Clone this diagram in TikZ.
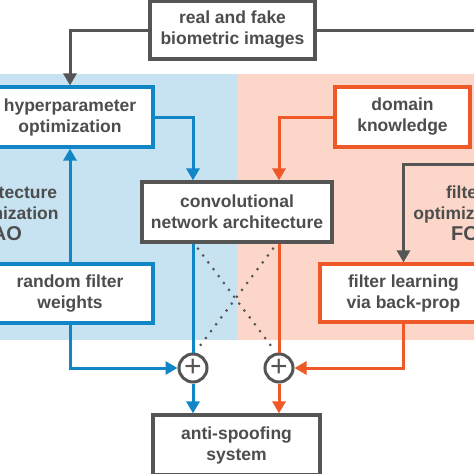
\documentclass[tikz,border=0pt]{standalone}
\usepackage{fontspec}
\setmainfont{Liberation Sans}
\usetikzlibrary{arrows.meta,calc}
\definecolor{cblue}{RGB}{16,134,199}
\definecolor{bgblue}{RGB}{199,226,241}
\definecolor{corange}{RGB}{239,88,39}
\definecolor{bgpink}{RGB}{252,215,201}
\definecolor{cgray}{RGB}{85,85,85}
\definecolor{ctext}{RGB}{77,77,77}
\tikzset{
  box/.style={draw=#1, line width=3.2pt, fill=white, text=ctext, align=center,
    font=\fontsize{17.5}{21}\selectfont\bfseries, inner sep=0pt},
  conn/.style={draw=#1, line width=3pt},
  arr/.style={conn=#1, -{Triangle[length=12pt,width=13pt]}},
  plus/.style={circle, draw=cgray, line width=3pt, fill=white, minimum size=28pt,
    inner sep=0pt, text=cgray, font=\fontsize{30}{30}\selectfont},
  dots/.style={draw=cgray, line width=3pt, line cap=round, dash pattern=on 0pt off 8.6pt},
  side/.style={text=ctext, align=center, font=\fontsize{17.5}{21}\selectfont\bfseries}
}
\begin{document}
\begin{tikzpicture}[x=1pt,y=-1pt]
\useasboundingbox (0,0) rectangle (474,474);
\clip (0,0) rectangle (474,474);
\fill[bgblue] (-10,74) rectangle (237,340);
\fill[bgpink] (237,74) rectangle (490,340);

\node[box=cgray, minimum width=165pt, minimum height=58pt] (top) at (232.5,30) {real and fake\\biometric images};
\node[box=cblue, minimum width=166pt, minimum height=60pt] (hyper) at (70,117) {hyperparameter\\optimization};
\node[box=corange, minimum width=135pt, minimum height=60pt] (dom) at (402.5,117) {domain\\knowledge};
\node[box=cgray, minimum width=190pt, minimum height=60pt] (conv) at (237,212) {convolutional\\network architecture};
\node[box=cblue, minimum width=166pt, minimum height=59pt] (rand) at (70,293.5) {random filter\\weights};
\node[box=corange, minimum width=167pt, minimum height=58pt] (filt) at (403.5,293) {filter learning\\via back-prop};
\node[plus] (pl) at (193,368) {+};
\node[plus] (pr) at (279,368) {+};
\node[box=cgray, minimum width=167pt, minimum height=60pt] (anti) at (236.5,445) {anti-spoofing\\system};

\node[side] (ao) at (7,213) {architecture\\optimization\\{\fontsize{20}{23}\selectfont AO}};
\node[side] (fo) at (465,213) {filter\\optimization\\{\fontsize{20}{23}\selectfont FO}};

\coordinate (rc) at (495,164);
\draw[arr=cgray] (top.west) -| (hyper.north);
\draw[arr=cgray] (top.east) -| (rc) -| (filt.north);
\draw[arr=cblue] (hyper.east) -| (pl |- conv.north);
\draw[arr=corange] (dom.west) -| (pr |- conv.north);
\draw[arr=cblue] (rand.north) -- (hyper.south);
\draw[arr=cblue] (rand.south) |- (pl.west);
\draw[arr=corange] (filt.south) |- (pr.east);
\draw[conn=cblue] (pl |- conv.south) -- (pl.north);
\draw[conn=corange] (pr |- conv.south) -- (pr.north);
\draw[arr=cblue] (pl.south) -- (pl |- anti.north);
\draw[arr=corange] (pr.south) -- (pr |- anti.north);
\draw[dots] ([xshift=-39pt,yshift=-5pt]conv.south) -- ([xshift=-6pt,yshift=4pt]pr.north);
\draw[dots] ([xshift=36pt,yshift=-5pt]conv.south) -- ([xshift=5pt,yshift=4pt]pl.north);
\end{tikzpicture}
\end{document}
